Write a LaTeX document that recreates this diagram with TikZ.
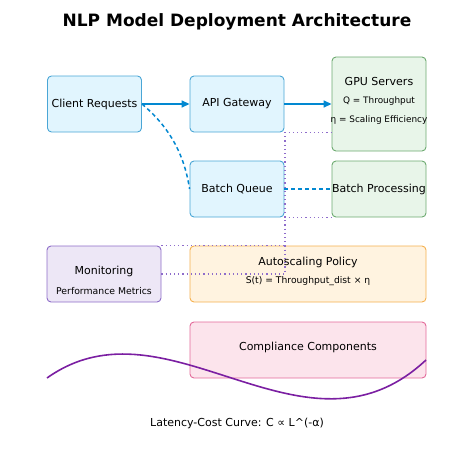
\documentclass[tikz,border=0pt]{standalone}
\usepackage{fontspec}
\setmainfont{DejaVu Sans}
\usetikzlibrary{arrows.meta}
\definecolor{bfill}{HTML}{E1F5FE}
\definecolor{bdraw}{HTML}{4AA6D6}
\definecolor{gfill}{HTML}{E8F5E9}
\definecolor{gdraw}{HTML}{6DAA70}
\definecolor{pfill}{HTML}{EDE7F6}
\definecolor{pdraw}{HTML}{8D6CC8}
\definecolor{ofill}{HTML}{FFF3E0}
\definecolor{odraw}{HTML}{F5B04F}
\definecolor{kfill}{HTML}{FCE4EC}
\definecolor{kdraw}{HTML}{E36A9A}
\definecolor{arrowblue}{HTML}{0288D1}
\definecolor{dotpurple}{HTML}{8E6CCB}
\definecolor{curvepurple}{HTML}{7B1FA2}
\tikzset{
  box/.style={draw, rounded corners=4pt, line width=0.9pt, minimum width=#1, inner sep=0pt, minimum height=56pt},
  box/.default=94pt,
  bluebox/.style={box=#1, fill=bfill, draw=bdraw},
  bluebox/.default=94pt,
  greenbox/.style={box=#1, fill=gfill, draw=gdraw},
  greenbox/.default=94pt,
  main/.style={font=\fontsize{11}{13}\selectfont},
  small/.style={font=\fontsize{8.9}{10}\selectfont},
  flow/.style={draw=arrowblue, line width=1.5pt, -{Triangle[length=8pt,width=7pt]}},
  dashflow/.style={draw=arrowblue, line width=1.5pt, dash pattern=on 4pt off 3pt},
  dotline/.style={draw=dotpurple, line width=1.1pt, dash pattern=on 1.2pt off 3pt},
  curve/.style={draw=curvepurple, line width=1.6pt},
}
\begin{document}
\begin{tikzpicture}[x=1pt,y=-1pt]
\useasboundingbox (0,0) rectangle (474,474);
\node[font=\fontsize{17}{20}\selectfont\bfseries] (title) at (237,22) {NLP Model Deployment Architecture};

\node[bluebox, main] (client) at (94.5,104) {Client Requests};
\node[bluebox, main] (api) at (237,104) {API Gateway};
\node[greenbox, minimum height=94pt] (gpu) at (379,104) {};
\node[main] (gputitle) at (379,81) {GPU Servers};
\node[small] (gpuq) at (379,101) {Q = Throughput};
\node[small] (gpueta) at (379,120) {η = Scaling Efficiency};
\node[bluebox, main] (bq) at (237,189) {Batch Queue};
\node[greenbox, main] (bp) at (379,189) {Batch Processing};
\node[box=114pt, fill=pfill, draw=pdraw] (mon) at (104,274) {};
\node[main] (montitle) at (104,271) {Monitoring};
\node[font=\fontsize{9.3}{11}\selectfont] (monsub) at (104,291) {Performance Metrics};
\node[box=236pt, fill=ofill, draw=odraw] (auto) at (308,274) {};
\node[main] (autotitle) at (308,262) {Autoscaling Policy};
\node[font=\fontsize{9.2}{11}\selectfont] (autosub) at (308,281) {S(t) = Throughput\_dist × η};
\node[box=236pt, fill=kfill, draw=kdraw] (comp) at (308,350) {};
\node[main] (comptitle) at (308,347) {Compliance Components};

\draw[flow] (client.east) -- (api.west);
\draw[flow] (api.east) -- (gpu.west |- api.east);
\draw[dashflow] (client.east) .. controls (168.7,126.3) and (184.3,153.7) .. (bq.west);
\draw[dashflow] (bq.east) -- (bp.west);

\coordinate (v1) at (285,132);
\coordinate (v2) at (285,274);
\draw[dotline] (api.south east) -- (gpu.west |- api.south east);
\draw[dotline] (v1) -- (v2);
\draw[dotline] (bq.south east) -- (bp.south west);
\draw[dotline] (mon.north east) -- (v1 |- mon.north east);
\draw[dotline] (mon.east) -- (v2);

\coordinate (cs) at (47,378);
\coordinate (ce) at (426,360);
\draw[curve] (cs) .. controls (168,292) and (304,474) .. (ce);

\node[main] (latency) at (237,423) {Latency-Cost Curve: C ∝ L\^{}(-α)};
\end{tikzpicture}
\end{document}
